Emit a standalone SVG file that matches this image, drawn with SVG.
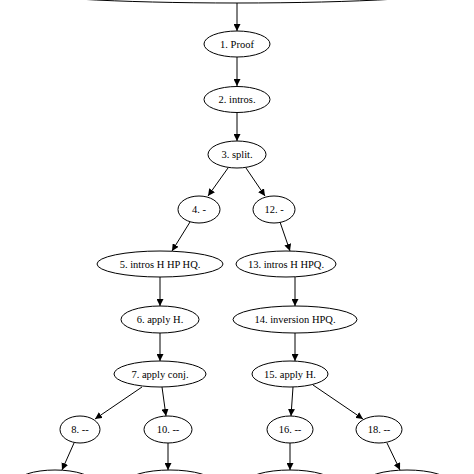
<svg xmlns="http://www.w3.org/2000/svg" width="474" height="474" viewBox="0 0 474 474">
<style>
.n ellipse{fill:#fff;stroke:#000;stroke-width:1}
.n text{font-family:"Liberation Serif","Times New Roman",serif;font-size:10.5px;text-anchor:middle;dominant-baseline:central;fill:#000}
.e line{stroke:#000;stroke-width:1;marker-end:url(#ah)}
</style>
<defs>
<marker id="ah" viewBox="0 0 10 10" refX="10" refY="5" markerWidth="7" markerHeight="7" markerUnits="userSpaceOnUse" orient="auto">
<path d="M0,0 L10,5 L0,10 z" fill="#000"/>
</marker>
</defs>
<rect width="474" height="474" fill="#fff"/>
<g class="e">
<line x1="237" y1="3" x2="237" y2="31"/>
<line x1="237" y1="57" x2="237" y2="86"/>
<line x1="237" y1="113" x2="237" y2="141"/>
<line x1="228" y1="168" x2="208" y2="196"/>
<line x1="246" y1="168" x2="265" y2="196"/>
<line x1="190" y1="222" x2="172" y2="251"/>
<line x1="280" y1="222" x2="290" y2="251"/>
<line x1="160" y1="277" x2="160" y2="306"/>
<line x1="295" y1="277" x2="295" y2="306"/>
<line x1="160" y1="333" x2="160" y2="361"/>
<line x1="295" y1="333" x2="295" y2="361"/>
<line x1="142" y1="387" x2="95" y2="419"/>
<line x1="162" y1="387" x2="166" y2="416"/>
<line x1="293" y1="387" x2="291" y2="416"/>
<line x1="313" y1="385" x2="363" y2="419"/>
<line x1="74" y1="443" x2="62" y2="470"/>
<line x1="168" y1="443" x2="168" y2="470"/>
<line x1="290" y1="443" x2="290" y2="470"/>
<line x1="387" y1="443" x2="400" y2="470"/>
</g>
<g id="n0" class="n"><ellipse cx="237" cy="-10" rx="221" ry="13"/></g>
<g id="n1" class="n"><ellipse cx="237" cy="44" rx="33" ry="13"/><text x="237" y="44">1. Proof</text></g>
<g id="n2" class="n"><ellipse cx="237" cy="99.5" rx="33" ry="13"/><text x="237" y="99.5">2. intros.</text></g>
<g id="n3" class="n"><ellipse cx="237" cy="154.5" rx="29" ry="13.5"/><text x="237" y="154.5">3. split.</text></g>
<g id="n4" class="n"><ellipse cx="199" cy="209.5" rx="21" ry="13.5"/><text x="199" y="209.5">4. -</text></g>
<g id="n12" class="n"><ellipse cx="274" cy="209.5" rx="21" ry="13.5"/><text x="274" y="209.5">12. -</text></g>
<g id="n5" class="n"><ellipse cx="160" cy="264" rx="63" ry="13"/><text x="160" y="264">5. intros H HP HQ.</text></g>
<g id="n13" class="n"><ellipse cx="286" cy="264" rx="50" ry="13"/><text x="286" y="264">13. intros H HPQ.</text></g>
<g id="n6" class="n"><ellipse cx="160" cy="319.5" rx="39" ry="13.5"/><text x="160" y="319.5">6. apply H.</text></g>
<g id="n14" class="n"><ellipse cx="295" cy="319.5" rx="62" ry="13.5"/><text x="295" y="319.5">14. inversion HPQ.</text></g>
<g id="n7" class="n"><ellipse cx="160" cy="374" rx="46" ry="13"/><text x="160" y="374">7. apply conj.</text></g>
<g id="n15" class="n"><ellipse cx="290" cy="374" rx="38" ry="13"/><text x="290" y="374">15. apply H.</text></g>
<g id="n8" class="n"><ellipse cx="80" cy="429.5" rx="20" ry="13.5"/><text x="80" y="429.5">8. --</text></g>
<g id="n10" class="n"><ellipse cx="168" cy="429.5" rx="24" ry="13.5"/><text x="168" y="429.5">10. --</text></g>
<g id="n16" class="n"><ellipse cx="290" cy="429.5" rx="23" ry="13.5"/><text x="290" y="429.5">16. --</text></g>
<g id="n18" class="n"><ellipse cx="379" cy="429.5" rx="23" ry="13.5"/><text x="379" y="429.5">18. --</text></g>
<g id="n9" class="n"><ellipse cx="55" cy="483" rx="39" ry="13"/></g>
<g id="n11" class="n"><ellipse cx="170" cy="483" rx="44" ry="13"/></g>
<g id="n17" class="n"><ellipse cx="290" cy="483" rx="44" ry="13"/></g>
<g id="n19" class="n"><ellipse cx="407" cy="483" rx="43" ry="13"/></g>
</svg>
